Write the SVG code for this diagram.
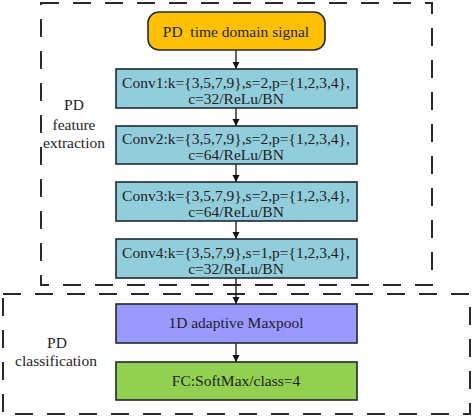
<svg xmlns="http://www.w3.org/2000/svg" width="474" height="420" viewBox="0 0 474 420">
<style>
  text { font-family: "Liberation Serif", "Times New Roman", serif; font-size: 15.5px; fill: #1e1e1e; text-anchor: middle; }
  .region { fill: none; stroke: #2a2a2a; stroke-width: 2; stroke-dasharray: 18 14; }
  .box { stroke: #1e2a30; stroke-width: 1.6; }
  .conv { fill: #92CDDC; }
  .edge { stroke: #111; stroke-width: 1.3; fill: none; marker-end: url(#arrow); }
</style>
<defs>
  <marker id="arrow" viewBox="0 0 10 10" refX="10" refY="5" markerWidth="7" markerHeight="8" markerUnits="userSpaceOnUse" orient="auto">
    <path d="M0,0 L10,5 L0,10 z" fill="#111"/>
  </marker>
</defs>
<rect fill="#ffffff" width="474" height="420"/>

<g id="region-feature">
  <rect class="region" x="41" y="3" width="391" height="282"/>
  <text x="74" y="110">PD</text>
  <text x="74" y="130">feature</text>
  <text x="74" y="148">extraction</text>
</g>
<g id="region-classification">
  <rect class="region" x="3" y="294" width="467" height="120"/>
  <text x="57" y="348">PD</text>
  <text x="56" y="366">classification</text>
</g>

<g id="connectors">
  <line class="edge" x1="236" y1="50" x2="236" y2="69"/>
  <line class="edge" x1="236" y1="108" x2="236" y2="126"/>
  <line class="edge" x1="236" y1="164" x2="236" y2="182"/>
  <line class="edge" x1="236" y1="221" x2="236" y2="239"/>
  <line class="edge" x1="236" y1="278" x2="236" y2="304"/>
  <line class="edge" x1="236" y1="343" x2="236" y2="362"/>
</g>

<g id="input">
  <rect class="box" x="148" y="12" width="177" height="38" rx="11" ry="11" fill="#FFC000"/>
  <text x="236" y="37" xml:space="preserve">PD  time domain signal</text>
</g>
<g id="conv1">
  <rect class="box conv" x="116" y="69" width="241" height="39"/>
  <text x="236" y="88">Conv1:k={3,5,7,9},s=2,p={1,2,3,4},</text>
  <text x="236" y="104">c=32/ReLu/BN</text>
</g>
<g id="conv2">
  <rect class="box conv" x="116" y="126" width="241" height="38"/>
  <text x="236" y="144">Conv2:k={3,5,7,9},s=2,p={1,2,3,4},</text>
  <text x="236" y="160">c=64/ReLu/BN</text>
</g>
<g id="conv3">
  <rect class="box conv" x="116" y="182" width="241" height="39"/>
  <text x="236" y="201">Conv3:k={3,5,7,9},s=2,p={1,2,3,4},</text>
  <text x="236" y="217">c=64/ReLu/BN</text>
</g>
<g id="conv4">
  <rect class="box conv" x="116" y="239" width="241" height="39"/>
  <text x="236" y="258">Conv4:k={3,5,7,9},s=1,p={1,2,3,4},</text>
  <text x="236" y="274">c=32/ReLu/BN</text>
</g>
<g id="maxpool">
  <rect class="box" x="116" y="304" width="241" height="39" fill="#9999FF"/>
  <text x="236" y="328">1D adaptive Maxpool</text>
</g>
<g id="fc">
  <rect class="box" x="116" y="362" width="241" height="38" fill="#92D050"/>
  <text x="236" y="386">FC:SoftMax/class=4</text>
</g>
</svg>
